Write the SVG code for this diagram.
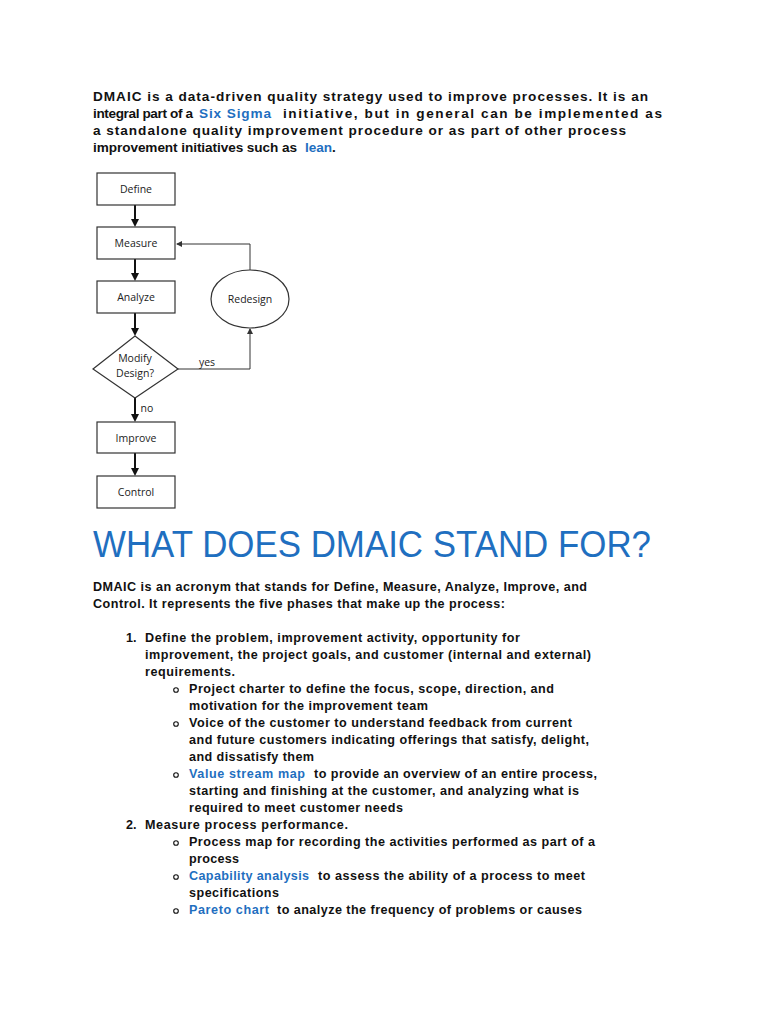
<svg xmlns="http://www.w3.org/2000/svg" width="768" height="1024" viewBox="0 0 768 1024">
<style>
.t{font-family:"Liberation Sans",Arial,sans-serif;font-weight:bold;font-size:12.6px;fill:#111}
.i{font-size:13.6px}
.b{fill:#1f6fc0}
.n{font-family:"Open Sans","Liberation Sans",sans-serif;font-size:10.5px;fill:#222;text-anchor:middle}
.box{fill:#fff;stroke:#333;stroke-width:1.2}
.c{fill:none;stroke:#333;stroke-width:1}
.ca{fill:none;stroke:#111;stroke-width:2}
</style>
<defs>
<marker id="ah" markerWidth="8" markerHeight="8" refX="4" refY="4" orient="auto" markerUnits="userSpaceOnUse"><path d="M0,0 L8,4 L0,8 z" fill="#111"/></marker>
<marker id="as" markerWidth="6" markerHeight="6" refX="5" refY="3" orient="auto" markerUnits="userSpaceOnUse"><path d="M0,0 L6,3 L0,6 z" fill="#333"/></marker>
</defs>
<rect width="768" height="1024" fill="#fff"/>
<text class="t i" x="93" y="101" textLength="555" lengthAdjust="spacing">DMAIC is a data-driven quality strategy used to improve processes. It is an</text>
<text class="t i" x="93" y="118" textLength="100" lengthAdjust="spacing">integral part of a</text>
<text class="t i b" x="199" y="118" textLength="72" lengthAdjust="spacing">Six Sigma</text>
<text class="t i" x="283" y="118" textLength="379" lengthAdjust="spacing">initiative, but in general can be implemented as</text>
<text class="t i" x="93" y="135" textLength="533" lengthAdjust="spacing">a standalone quality improvement procedure or as part of other process</text>
<text class="t i" x="93" y="152" textLength="204" lengthAdjust="spacing">improvement initiatives such as</text>
<text class="t i b" x="305" y="152" textLength="27" lengthAdjust="spacing">lean</text>
<text class="t i" x="332" y="152">.</text>
<g id="connectors">
<line class="ca" x1="135" y1="205" x2="135" y2="223" marker-end="url(#ah)"/>
<line class="ca" x1="135" y1="259" x2="135" y2="277" marker-end="url(#ah)"/>
<line class="ca" x1="135" y1="313" x2="135" y2="332" marker-end="url(#ah)"/>
<line class="ca" x1="135" y1="398" x2="135" y2="418" marker-end="url(#ah)"/>
<line class="ca" x1="135" y1="453" x2="135" y2="472" marker-end="url(#ah)"/>
<polyline class="c" points="178,369 250,369 250,329" marker-end="url(#as)"/>
<polyline class="c" points="250,270 250,244 177,244" marker-end="url(#as)"/>
<text class="n" x="207" y="366">yes</text>
<text class="n" x="147" y="412">no</text>
</g>
<g id="define"><rect class="box" x="97" y="173" width="78" height="32"/><text class="n" x="136" y="193">Define</text></g>
<g id="measure"><rect class="box" x="97" y="227" width="78" height="32"/><text class="n" x="136" y="247">Measure</text></g>
<g id="analyze"><rect class="box" x="97" y="281" width="78" height="32"/><text class="n" x="136" y="301">Analyze</text></g>
<g id="modify"><polygon class="box" points="135,336 178,369 135,398 93,369"/><text class="n" x="135" y="362">Modify</text><text class="n" x="135" y="377">Design?</text></g>
<g id="redesign"><ellipse class="box" cx="250" cy="299" rx="39" ry="29"/><text class="n" x="250" y="303">Redesign</text></g>
<g id="improve"><rect class="box" x="97" y="422" width="78" height="31"/><text class="n" x="136" y="442">Improve</text></g>
<g id="control"><rect class="box" x="97" y="476" width="78" height="32"/><text class="n" x="136" y="496">Control</text></g>
<text x="93" y="557" font-family="Liberation Sans,Arial,sans-serif" font-size="36" fill="#1f6fc0" textLength="558" lengthAdjust="spacingAndGlyphs">WHAT DOES DMAIC STAND FOR?</text>
<text class="t" x="93" y="591" textLength="494" lengthAdjust="spacing">DMAIC is an acronym that stands for Define, Measure, Analyze, Improve, and</text>
<text class="t" x="93" y="608" textLength="412" lengthAdjust="spacing">Control. It represents the five phases that make up the process:</text>
<text class="t" x="126" y="642">1.</text>
<text class="t" x="145" y="642" textLength="375" lengthAdjust="spacing">Define  the problem, improvement activity, opportunity for</text>
<text class="t" x="145" y="659" textLength="446" lengthAdjust="spacing">improvement, the project goals, and customer (internal and external)</text>
<text class="t" x="145" y="676" textLength="90" lengthAdjust="spacing">requirements.</text>
<g fill="none" stroke="#111" stroke-width="1.1">
<circle cx="176" cy="690" r="2.3"/><circle cx="176" cy="724" r="2.3"/><circle cx="176" cy="775" r="2.3"/>
<circle cx="176" cy="843" r="2.3"/><circle cx="176" cy="877" r="2.3"/><circle cx="176" cy="911" r="2.3"/>
</g>
<text class="t" x="189" y="693" textLength="365" lengthAdjust="spacing">Project charter to define the focus, scope, direction, and</text>
<text class="t" x="189" y="710" textLength="239" lengthAdjust="spacing">motivation for the improvement team</text>
<text class="t" x="189" y="727" textLength="383" lengthAdjust="spacing">Voice of the customer to understand feedback from current</text>
<text class="t" x="189" y="744" textLength="400" lengthAdjust="spacing">and future customers indicating offerings that satisfy, delight,</text>
<text class="t" x="189" y="761" textLength="125" lengthAdjust="spacing">and dissatisfy them</text>
<text class="t b" x="189" y="778" textLength="116" lengthAdjust="spacing">Value stream map</text>
<text class="t" x="314" y="778" textLength="283" lengthAdjust="spacing">to provide an overview of an entire process,</text>
<text class="t" x="189" y="795" textLength="390" lengthAdjust="spacing">starting and finishing at the customer, and analyzing what is</text>
<text class="t" x="189" y="812" textLength="214" lengthAdjust="spacing">required to meet customer needs</text>
<text class="t" x="126" y="829">2.</text>
<text class="t" x="145" y="829" textLength="203" lengthAdjust="spacing">Measure  process performance.</text>
<text class="t" x="189" y="846" textLength="406" lengthAdjust="spacing">Process map for recording the activities performed as part of a</text>
<text class="t" x="189" y="863" textLength="50" lengthAdjust="spacing">process</text>
<text class="t b" x="189" y="880" textLength="120" lengthAdjust="spacing">Capability analysis</text>
<text class="t" x="318" y="880" textLength="267" lengthAdjust="spacing">to assess the ability of a process to meet</text>
<text class="t" x="189" y="897" textLength="90" lengthAdjust="spacing">specifications</text>
<text class="t b" x="189" y="914" textLength="80" lengthAdjust="spacing">Pareto chart</text>
<text class="t" x="277" y="914" textLength="305" lengthAdjust="spacing">to analyze the frequency of problems or causes</text>
</svg>
